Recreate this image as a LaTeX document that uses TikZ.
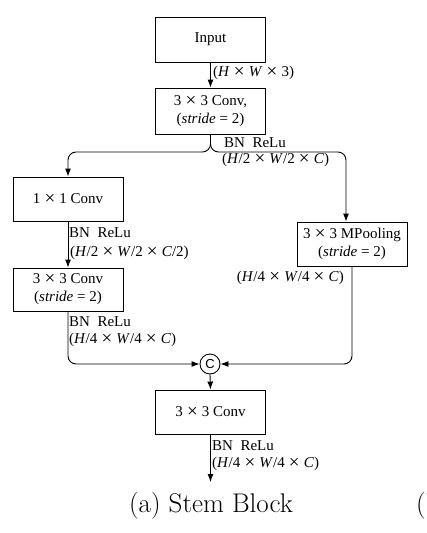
\documentclass[tikz,border=0pt]{standalone}
\usepackage{fontspec}
\newfontfamily\tnr{Liberation Serif}
\newfontfamily\ars{Liberation Sans}
\usetikzlibrary{arrows.meta}
\newcommand{\X}{\hspace{0.28em}\smash{\raisebox{-0.06em}{\fontsize{19}{18}\selectfont ×}}\hspace{0.28em}}
\newcommand{\I}[1]{\textit{#1}}
\begin{document}
\begin{tikzpicture}[x=1pt,y=-1pt,
  box/.style={draw, line width=0.9pt, minimum width=110pt, minimum height=45pt, inner sep=0pt, align=center, font=\tnr\fontsize{15}{18}\selectfont},
  lbl/.style={inner sep=0pt, anchor=west, font=\tnr\fontsize{15}{18}\selectfont},
  arr/.style={-{Latex[length=8pt,width=6pt]}, line width=0.9pt},
  ln/.style={line width=0.9pt, rounded corners=8pt}]
\useasboundingbox (0,0) rectangle (427,533);
\node[box] (in) at (210.5,39.5) {Input};
\node[box, minimum height=46pt] (c1) at (210.5,111) {3\X3 Conv,\\(\I{stride} = 2)};
\node[box, minimum height=44pt] (c11) at (68,199) {1\X1 Conv};
\node[box, minimum height=43pt] (c3) at (68,289.5) {3\X3 Conv\\(\I{stride} = 2)};
\node[box, minimum height=44pt] (mp) at (352,244) {3\X3 MPooling\\(\I{stride} = 2)};
\node[circle, draw, line width=0.9pt, minimum size=20pt, inner sep=0pt, font=\ars\fontsize{13}{13}\selectfont] (cat) at (210,364) {C};
\node[box, minimum height=44pt] (c4) at (210.5,412) {3\X3 Conv};
\coordinate (out) at (210.5,482);
\coordinate (split) at (210.5,152);

\draw[arr] (in.south) -- (c1.north);
\node[lbl] (l1) at (213,73) {(\I{H}\X\I{W}\X3)};

\draw[ln, arr] (c1.south) -- (split) -| (c11.north);
\draw[ln, arr] (c1.south) -- (split) -| ([xshift=-6pt]mp.north);
\node[lbl] (l2a) at (224,142.3) {BN\hspace{0.5em}ReLu};
\node[lbl] (l2b) at (222,159.5) {(\I{H}/2\X\I{W}/2\X\I{C})};

\draw[arr] (c11.south) -- (c3.north);
\node[lbl] (l3a) at (69,233) {BN\hspace{0.5em}ReLu};
\node[lbl] (l3b) at (70,253) {(\I{H}/2\X\I{W}/2\X\I{C}/2)};

\draw[ln, arr] (c3.south) |- (cat.west);
\node[lbl] (l4a) at (69,322) {BN\hspace{0.5em}ReLu};
\node[lbl] (l4b) at (69,340) {(\I{H}/4\X\I{W}/4\X\I{C})};

\draw[ln, arr] (mp.south) |- (cat.east);
\node[lbl, anchor=east] (l5) at (344,278) {(\I{H}/4\X\I{W}/4\X\I{C})};

\draw[arr] (cat.south) -- (c4.north);
\draw[arr] (c4.south) -- (out);
\node[lbl] (l6a) at (212,446) {BN\hspace{0.5em}ReLu};
\node[lbl] (l6b) at (212,464) {(\I{H}/4\X\I{W}/4\X\I{C})};

\node[font=\fontsize{27}{32}\selectfont, inner sep=0pt] (cap) at (211,506) {(a) Stem Block};
\node[font=\fontsize{27}{32}\selectfont, inner sep=0pt, anchor=west] (capb) at (416,506) {(b)};
\end{tikzpicture}
\end{document}
